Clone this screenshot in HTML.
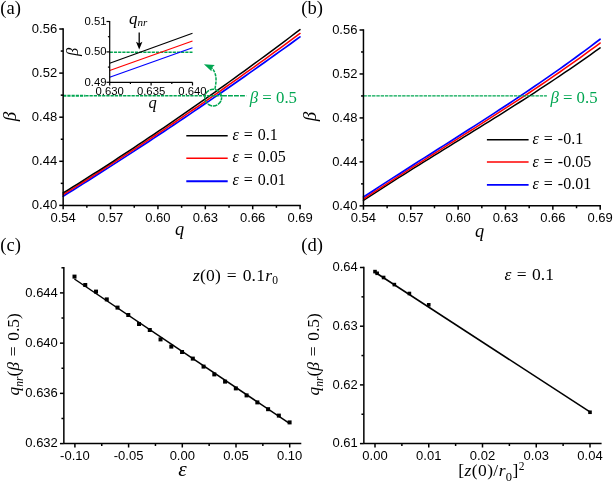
<!DOCTYPE html>
<html><head><meta charset="utf-8"><title>Figure</title>
<style>html,body{margin:0;padding:0;background:#fff}svg{display:block}</style></head>
<body>
<svg width="613" height="481" viewBox="0 0 613 481">
<rect width="613" height="481" fill="#fff"/>
<path d="M63.15 196.18 L68.19 193.05 L73.23 189.91 L78.27 186.76 L83.31 183.6 L88.35 180.43 L93.39 177.24 L98.43 174.05 L103.46 170.84 L108.5 167.62 L113.54 164.39 L118.58 161.15 L123.62 157.9 L128.66 154.63 L133.7 151.36 L138.74 148.07 L143.78 144.77 L148.82 141.46 L153.86 138.14 L158.9 134.81 L163.94 131.47 L168.98 128.11 L174.02 124.74 L179.06 121.37 L184.09 117.98 L189.13 114.58 L194.17 111.17 L199.21 107.74 L204.25 104.31 L209.29 100.86 L214.33 97.41 L219.37 93.94 L224.41 90.46 L229.45 86.97 L234.49 83.46 L239.53 79.95 L244.57 76.43 L249.61 72.89 L254.65 69.34 L259.69 65.78 L264.72 62.21 L269.76 58.63 L274.8 55.04 L279.84 51.43 L284.88 47.82 L289.92 44.19 L294.96 40.55 L300 36.9" fill="none" stroke="#0000ff" stroke-width="1.7" stroke-linecap="round"/>
<path d="M63.15 194.58 L68.19 191.45 L73.23 188.31 L78.27 185.16 L83.31 181.99 L88.35 178.81 L93.39 175.61 L98.43 172.41 L103.46 169.19 L108.5 165.95 L113.54 162.71 L118.58 159.45 L123.62 156.18 L128.66 152.89 L133.7 149.59 L138.74 146.28 L143.78 142.96 L148.82 139.62 L153.86 136.27 L158.9 132.91 L163.94 129.53 L168.98 126.14 L174.02 122.74 L179.06 119.32 L184.09 115.9 L189.13 112.46 L194.17 109 L199.21 105.53 L204.25 102.05 L209.29 98.56 L214.33 95.05 L219.37 91.53 L224.41 88 L229.45 84.46 L234.49 80.9 L239.53 77.33 L244.57 73.74 L249.61 70.15 L254.65 66.54 L259.69 62.91 L264.72 59.28 L269.76 55.63 L274.8 51.96 L279.84 48.29 L284.88 44.6 L289.92 40.9 L294.96 37.18 L300 33.46" fill="none" stroke="#ff0000" stroke-width="1.55" stroke-linecap="round"/>
<path d="M63.15 192.98 L68.19 189.85 L73.23 186.71 L78.27 183.55 L83.31 180.37 L88.35 177.18 L93.39 173.98 L98.43 170.76 L103.46 167.52 L108.5 164.27 L113.54 161.01 L118.58 157.72 L123.62 154.43 L128.66 151.12 L133.7 147.79 L138.74 144.45 L143.78 141.1 L148.82 137.73 L153.86 134.34 L158.9 130.94 L163.94 127.52 L168.98 124.09 L174.02 120.65 L179.06 117.19 L184.09 113.71 L189.13 110.22 L194.17 106.71 L199.21 103.19 L204.25 99.66 L209.29 96.11 L214.33 92.54 L219.37 88.96 L224.41 85.36 L229.45 81.75 L234.49 78.12 L239.53 74.48 L244.57 70.83 L249.61 67.15 L254.65 63.47 L259.69 59.77 L264.72 56.05 L269.76 52.32 L274.8 48.57 L279.84 44.81 L284.88 41.03 L289.92 37.24 L294.96 33.43 L300 29.61" fill="none" stroke="#000000" stroke-width="1.5" stroke-linecap="round"/>
<line x1="63.15" y1="95.7" x2="85.3" y2="95.7" stroke="#00A651" stroke-width="2.0" stroke-dasharray="3.2 1"/>
<line x1="85.3" y1="95.7" x2="222" y2="95.7" stroke="#00A651" stroke-width="1.35" stroke-dasharray="3.3 0.9"/>
<line x1="222" y1="95.7" x2="246.2" y2="95.7" stroke="#00A651" stroke-width="1.35" stroke-dasharray="4.9 1.1"/>
<line x1="63.15" y1="205.4" x2="63.15" y2="28.25" stroke="#000" stroke-width="1.5" />
<line x1="63.15" y1="205.4" x2="300.85" y2="205.4" stroke="#000" stroke-width="1.5" />
<line x1="63.15" y1="205.4" x2="63.15" y2="209.3" stroke="#000" stroke-width="1.5" />
<line x1="110.54" y1="205.4" x2="110.54" y2="209.3" stroke="#000" stroke-width="1.5" />
<line x1="157.93" y1="205.4" x2="157.93" y2="209.3" stroke="#000" stroke-width="1.5" />
<line x1="205.32" y1="205.4" x2="205.32" y2="209.3" stroke="#000" stroke-width="1.5" />
<line x1="252.71" y1="205.4" x2="252.71" y2="209.3" stroke="#000" stroke-width="1.5" />
<line x1="300.1" y1="205.4" x2="300.1" y2="209.3" stroke="#000" stroke-width="1.5" />
<line x1="86.84" y1="205.4" x2="86.84" y2="207.8" stroke="#000" stroke-width="1.5" />
<line x1="134.24" y1="205.4" x2="134.24" y2="207.8" stroke="#000" stroke-width="1.5" />
<line x1="181.62" y1="205.4" x2="181.62" y2="207.8" stroke="#000" stroke-width="1.5" />
<line x1="229.02" y1="205.4" x2="229.02" y2="207.8" stroke="#000" stroke-width="1.5" />
<line x1="276.41" y1="205.4" x2="276.41" y2="207.8" stroke="#000" stroke-width="1.5" />
<line x1="63.15" y1="205.4" x2="59.25" y2="205.4" stroke="#000" stroke-width="1.5" />
<line x1="63.15" y1="161.3" x2="59.25" y2="161.3" stroke="#000" stroke-width="1.5" />
<line x1="63.15" y1="117.2" x2="59.25" y2="117.2" stroke="#000" stroke-width="1.5" />
<line x1="63.15" y1="73.1" x2="59.25" y2="73.1" stroke="#000" stroke-width="1.5" />
<line x1="63.15" y1="29" x2="59.25" y2="29" stroke="#000" stroke-width="1.5" />
<line x1="63.15" y1="183.35" x2="60.75" y2="183.35" stroke="#000" stroke-width="1.5" />
<line x1="63.15" y1="139.25" x2="60.75" y2="139.25" stroke="#000" stroke-width="1.5" />
<line x1="63.15" y1="95.15" x2="60.75" y2="95.15" stroke="#000" stroke-width="1.5" />
<line x1="63.15" y1="51.05" x2="60.75" y2="51.05" stroke="#000" stroke-width="1.5" />
<text x="63.15" y="221.8" font-size="13.0" font-family="Liberation Sans, Arial, sans-serif" text-anchor="middle" fill="#000" >0.54</text>
<text x="110.54" y="221.8" font-size="13.0" font-family="Liberation Sans, Arial, sans-serif" text-anchor="middle" fill="#000" >0.57</text>
<text x="157.93" y="221.8" font-size="13.0" font-family="Liberation Sans, Arial, sans-serif" text-anchor="middle" fill="#000" >0.60</text>
<text x="205.32" y="221.8" font-size="13.0" font-family="Liberation Sans, Arial, sans-serif" text-anchor="middle" fill="#000" >0.63</text>
<text x="252.71" y="221.8" font-size="13.0" font-family="Liberation Sans, Arial, sans-serif" text-anchor="middle" fill="#000" >0.66</text>
<text x="300.1" y="221.8" font-size="13.0" font-family="Liberation Sans, Arial, sans-serif" text-anchor="middle" fill="#000" >0.69</text>
<text x="57.15" y="209.24" font-size="13.0" font-family="Liberation Sans, Arial, sans-serif" text-anchor="end" fill="#000" >0.40</text>
<text x="57.15" y="165.14" font-size="13.0" font-family="Liberation Sans, Arial, sans-serif" text-anchor="end" fill="#000" >0.44</text>
<text x="57.15" y="121.03" font-size="13.0" font-family="Liberation Sans, Arial, sans-serif" text-anchor="end" fill="#000" >0.48</text>
<text x="57.15" y="76.93" font-size="13.0" font-family="Liberation Sans, Arial, sans-serif" text-anchor="end" fill="#000" >0.52</text>
<text x="57.15" y="32.84" font-size="13.0" font-family="Liberation Sans, Arial, sans-serif" text-anchor="end" fill="#000" >0.56</text>
<text x="0.3" y="13.8" font-size="18.6" font-family="Liberation Serif, Times New Roman, serif" text-anchor="start" fill="#000" >(a)</text>
<text transform="translate(16.4,116.5) rotate(-90)" font-size="19" font-family="Liberation Serif, Times New Roman, serif" font-style="italic" text-anchor="middle">β</text>
<text x="179.7" y="234.8" font-size="18.4" font-family="Liberation Serif, Times New Roman, serif" font-style="italic" text-anchor="middle" fill="#000" >q</text>
<text x="249.8" y="103" font-size="16.8" font-family="Liberation Serif, Times New Roman, serif" text-anchor="start" fill="#00A651" ><tspan font-style="italic">β</tspan> = 0.5</text>
<circle cx="213.2" cy="97.6" r="8.4" fill="none" stroke="#00A651" stroke-width="1.5" stroke-dasharray="4.6 0.8" stroke-dashoffset="2"/>
<path d="M215 88.8 C216.2 82 217.6 74 211.5 67.6" fill="none" stroke="#00A651" stroke-width="1.5" stroke-dasharray="3.2 1"/>
<path d="M203.9 64.2 L214.8 65 L212 67.6 L211.4 71.2 Z" fill="#00A651"/>
<line x1="186.3" y1="135.7" x2="227.7" y2="135.7" stroke="#000" stroke-width="1.4" />
<text x="232.5" y="139.6" font-size="16" font-family="Liberation Serif, Times New Roman, serif" text-anchor="start" fill="#000" word-spacing="1"><tspan font-style="italic">ε</tspan> = 0.1</text>
<line x1="186.3" y1="158.2" x2="227.7" y2="158.2" stroke="#ff0000" stroke-width="1.5" />
<text x="232.5" y="162.1" font-size="16" font-family="Liberation Serif, Times New Roman, serif" text-anchor="start" fill="#000" word-spacing="1"><tspan font-style="italic">ε</tspan> = 0.05</text>
<line x1="186.3" y1="181.2" x2="227.7" y2="181.2" stroke="#0000ff" stroke-width="1.9" />
<text x="232.5" y="185.1" font-size="16" font-family="Liberation Serif, Times New Roman, serif" text-anchor="start" fill="#000" word-spacing="1"><tspan font-style="italic">ε</tspan> = 0.01</text>
<line x1="109.7" y1="52.2" x2="192.5" y2="52.2" stroke="#00A651" stroke-width="1.5" stroke-dasharray="3.2 1"/>
<line x1="109.7" y1="77.3" x2="192.5" y2="47.8" stroke="#0000ff" stroke-width="1.2" />
<line x1="109.7" y1="70.5" x2="192.5" y2="41" stroke="#ff0000" stroke-width="1.2" />
<line x1="109.7" y1="63.2" x2="192.5" y2="33.2" stroke="#000" stroke-width="1.2" />
<line x1="109.7" y1="82.3" x2="109.7" y2="20.9" stroke="#000" stroke-width="1.2" />
<line x1="109.7" y1="82.3" x2="192.5" y2="82.3" stroke="#000" stroke-width="1.2" />
<line x1="109.7" y1="82.3" x2="109.7" y2="85.5" stroke="#000" stroke-width="1.2" />
<line x1="151.1" y1="82.3" x2="151.1" y2="85.5" stroke="#000" stroke-width="1.2" />
<line x1="192.5" y1="82.3" x2="192.5" y2="85.5" stroke="#000" stroke-width="1.2" />
<line x1="130.4" y1="82.3" x2="130.4" y2="84.1" stroke="#000" stroke-width="1.2" />
<line x1="171.8" y1="82.3" x2="171.8" y2="84.1" stroke="#000" stroke-width="1.2" />
<line x1="109.7" y1="82.3" x2="106.5" y2="82.3" stroke="#000" stroke-width="1.2" />
<line x1="109.7" y1="51.9" x2="106.5" y2="51.9" stroke="#000" stroke-width="1.2" />
<line x1="109.7" y1="21.5" x2="106.5" y2="21.5" stroke="#000" stroke-width="1.2" />
<line x1="109.7" y1="67.1" x2="107.9" y2="67.1" stroke="#000" stroke-width="1.2" />
<line x1="109.7" y1="36.7" x2="107.9" y2="36.7" stroke="#000" stroke-width="1.2" />
<text x="109.7" y="94.5" font-size="11.3" font-family="Liberation Sans, Arial, sans-serif" text-anchor="middle" fill="#000" >0.630</text>
<text x="151.1" y="94.5" font-size="11.3" font-family="Liberation Sans, Arial, sans-serif" text-anchor="middle" fill="#000" >0.635</text>
<text x="192.5" y="94.5" font-size="11.3" font-family="Liberation Sans, Arial, sans-serif" text-anchor="middle" fill="#000" >0.640</text>
<text x="106.5" y="85.63" font-size="11.3" font-family="Liberation Sans, Arial, sans-serif" text-anchor="end" fill="#000" >0.49</text>
<text x="106.5" y="55.23" font-size="11.3" font-family="Liberation Sans, Arial, sans-serif" text-anchor="end" fill="#000" >0.50</text>
<text x="106.5" y="24.83" font-size="11.3" font-family="Liberation Sans, Arial, sans-serif" text-anchor="end" fill="#000" >0.51</text>
<text transform="translate(78.2,51.8) rotate(-90)" font-size="16.5" font-family="Liberation Serif, Times New Roman, serif" font-style="italic" text-anchor="middle">β</text>
<text x="152.5" y="108" font-size="16.5" font-family="Liberation Serif, Times New Roman, serif" font-style="italic" text-anchor="middle" fill="#000" >q</text>
<text x="129" y="23.5" font-size="17" font-family="Liberation Serif, Times New Roman, serif" text-anchor="start" fill="#000" ><tspan font-style="italic">q</tspan><tspan font-style="italic" font-size="11" dy="2.6">nr</tspan></text>
<line x1="139.2" y1="32.5" x2="139.2" y2="44" stroke="#000" stroke-width="1.3" />
<path d="M139.2 49.5 L136 41.8 L139.2 43.6 L142.4 41.8 Z" fill="#000"/>
<path d="M363.45 200.35 L368.49 197.06 L373.52 193.79 L378.56 190.54 L383.59 187.31 L388.63 184.09 L393.66 180.89 L398.7 177.7 L403.73 174.53 L408.77 171.36 L413.8 168.21 L418.84 165.06 L423.87 161.93 L428.91 158.8 L433.94 155.67 L438.98 152.55 L444.01 149.43 L449.05 146.32 L454.08 143.21 L459.12 140.09 L464.15 136.97 L469.19 133.86 L474.22 130.73 L479.26 127.61 L484.29 124.47 L489.33 121.33 L494.36 118.18 L499.4 115.02 L504.43 111.84 L509.47 108.66 L514.5 105.46 L519.54 102.25 L524.57 99.02 L529.61 95.78 L534.64 92.51 L539.68 89.23 L544.71 85.92 L549.75 82.6 L554.78 79.25 L559.82 75.87 L564.85 72.48 L569.89 69.05 L574.92 65.6 L579.96 62.11 L584.99 58.6 L590.03 55.05 L595.06 51.48 L600.1 47.87" fill="none" stroke="#000000" stroke-width="1.5" stroke-linecap="round"/>
<path d="M363.45 199.02 L368.49 195.69 L373.52 192.39 L378.56 189.1 L383.59 185.83 L388.63 182.57 L393.66 179.33 L398.7 176.1 L403.73 172.88 L408.77 169.67 L413.8 166.47 L418.84 163.28 L423.87 160.09 L428.91 156.91 L433.94 153.73 L438.98 150.56 L444.01 147.39 L449.05 144.21 L454.08 141.04 L459.12 137.86 L464.15 134.68 L469.19 131.5 L474.22 128.31 L479.26 125.11 L484.29 121.9 L489.33 118.69 L494.36 115.46 L499.4 112.22 L504.43 108.97 L509.47 105.71 L514.5 102.43 L519.54 99.13 L524.57 95.81 L529.61 92.48 L534.64 89.12 L539.68 85.74 L544.71 82.34 L549.75 78.92 L554.78 75.46 L559.82 71.99 L564.85 68.48 L569.89 64.95 L574.92 61.38 L579.96 57.79 L584.99 54.16 L590.03 50.49 L595.06 46.8 L600.1 43.06" fill="none" stroke="#ff0000" stroke-width="1.55" stroke-linecap="round"/>
<path d="M363.45 197.03 L368.49 193.72 L373.52 190.43 L378.56 187.15 L383.59 183.89 L388.63 180.64 L393.66 177.4 L398.7 174.17 L403.73 170.95 L408.77 167.74 L413.8 164.54 L418.84 161.33 L423.87 158.14 L428.91 154.94 L433.94 151.75 L438.98 148.56 L444.01 145.36 L449.05 142.17 L454.08 138.97 L459.12 135.76 L464.15 132.55 L469.19 129.33 L474.22 126.11 L479.26 122.87 L484.29 119.63 L489.33 116.37 L494.36 113.1 L499.4 109.81 L504.43 106.51 L509.47 103.19 L514.5 99.86 L519.54 96.5 L524.57 93.12 L529.61 89.73 L534.64 86.31 L539.68 82.86 L544.71 79.39 L549.75 75.9 L554.78 72.37 L559.82 68.82 L564.85 65.24 L569.89 61.62 L574.92 57.98 L579.96 54.29 L584.99 50.58 L590.03 46.83 L595.06 43.04 L600.1 39.21" fill="none" stroke="#0000ff" stroke-width="1.7" stroke-linecap="round"/>
<line x1="363.45" y1="95.94" x2="546.9" y2="95.94" stroke="#00A651" stroke-width="1.25" stroke-dasharray="3.4 0.9"/>
<line x1="363.45" y1="205.85" x2="363.45" y2="29.25" stroke="#000" stroke-width="1.5" />
<line x1="363.45" y1="205.85" x2="600.95" y2="205.85" stroke="#000" stroke-width="1.5" />
<line x1="363.45" y1="205.85" x2="363.45" y2="209.75" stroke="#000" stroke-width="1.5" />
<line x1="410.8" y1="205.85" x2="410.8" y2="209.75" stroke="#000" stroke-width="1.5" />
<line x1="458.15" y1="205.85" x2="458.15" y2="209.75" stroke="#000" stroke-width="1.5" />
<line x1="505.5" y1="205.85" x2="505.5" y2="209.75" stroke="#000" stroke-width="1.5" />
<line x1="552.85" y1="205.85" x2="552.85" y2="209.75" stroke="#000" stroke-width="1.5" />
<line x1="600.2" y1="205.85" x2="600.2" y2="209.75" stroke="#000" stroke-width="1.5" />
<line x1="387.12" y1="205.85" x2="387.12" y2="208.25" stroke="#000" stroke-width="1.5" />
<line x1="434.48" y1="205.85" x2="434.48" y2="208.25" stroke="#000" stroke-width="1.5" />
<line x1="481.83" y1="205.85" x2="481.83" y2="208.25" stroke="#000" stroke-width="1.5" />
<line x1="529.18" y1="205.85" x2="529.18" y2="208.25" stroke="#000" stroke-width="1.5" />
<line x1="576.53" y1="205.85" x2="576.53" y2="208.25" stroke="#000" stroke-width="1.5" />
<line x1="363.45" y1="205.85" x2="359.55" y2="205.85" stroke="#000" stroke-width="1.5" />
<line x1="363.45" y1="161.89" x2="359.55" y2="161.89" stroke="#000" stroke-width="1.5" />
<line x1="363.45" y1="117.92" x2="359.55" y2="117.92" stroke="#000" stroke-width="1.5" />
<line x1="363.45" y1="73.96" x2="359.55" y2="73.96" stroke="#000" stroke-width="1.5" />
<line x1="363.45" y1="30" x2="359.55" y2="30" stroke="#000" stroke-width="1.5" />
<line x1="363.45" y1="183.87" x2="361.05" y2="183.87" stroke="#000" stroke-width="1.5" />
<line x1="363.45" y1="139.91" x2="361.05" y2="139.91" stroke="#000" stroke-width="1.5" />
<line x1="363.45" y1="95.94" x2="361.05" y2="95.94" stroke="#000" stroke-width="1.5" />
<line x1="363.45" y1="51.98" x2="361.05" y2="51.98" stroke="#000" stroke-width="1.5" />
<text x="363.45" y="222.25" font-size="13.0" font-family="Liberation Sans, Arial, sans-serif" text-anchor="middle" fill="#000" >0.54</text>
<text x="410.8" y="222.25" font-size="13.0" font-family="Liberation Sans, Arial, sans-serif" text-anchor="middle" fill="#000" >0.57</text>
<text x="458.15" y="222.25" font-size="13.0" font-family="Liberation Sans, Arial, sans-serif" text-anchor="middle" fill="#000" >0.60</text>
<text x="505.5" y="222.25" font-size="13.0" font-family="Liberation Sans, Arial, sans-serif" text-anchor="middle" fill="#000" >0.63</text>
<text x="552.85" y="222.25" font-size="13.0" font-family="Liberation Sans, Arial, sans-serif" text-anchor="middle" fill="#000" >0.66</text>
<text x="600.2" y="222.25" font-size="13.0" font-family="Liberation Sans, Arial, sans-serif" text-anchor="middle" fill="#000" >0.69</text>
<text x="357.45" y="209.69" font-size="13.0" font-family="Liberation Sans, Arial, sans-serif" text-anchor="end" fill="#000" >0.40</text>
<text x="357.45" y="165.72" font-size="13.0" font-family="Liberation Sans, Arial, sans-serif" text-anchor="end" fill="#000" >0.44</text>
<text x="357.45" y="121.76" font-size="13.0" font-family="Liberation Sans, Arial, sans-serif" text-anchor="end" fill="#000" >0.48</text>
<text x="357.45" y="77.8" font-size="13.0" font-family="Liberation Sans, Arial, sans-serif" text-anchor="end" fill="#000" >0.52</text>
<text x="357.45" y="33.84" font-size="13.0" font-family="Liberation Sans, Arial, sans-serif" text-anchor="end" fill="#000" >0.56</text>
<text x="301.2" y="13.8" font-size="18.6" font-family="Liberation Serif, Times New Roman, serif" text-anchor="start" fill="#000" >(b)</text>
<text transform="translate(316.4,116.5) rotate(-90)" font-size="19" font-family="Liberation Serif, Times New Roman, serif" font-style="italic" text-anchor="middle">β</text>
<text x="479.7" y="237.3" font-size="18.4" font-family="Liberation Serif, Times New Roman, serif" font-style="italic" text-anchor="middle" fill="#000" >q</text>
<text x="550.4" y="103.2" font-size="16.8" font-family="Liberation Serif, Times New Roman, serif" text-anchor="start" fill="#00A651" ><tspan font-style="italic">β</tspan> = 0.5</text>
<line x1="486.9" y1="139.7" x2="528.6" y2="139.7" stroke="#000" stroke-width="1.4" />
<text x="532.5" y="144.2" font-size="16" font-family="Liberation Serif, Times New Roman, serif" text-anchor="start" fill="#000" word-spacing="1"><tspan font-style="italic">ε</tspan> = -0.1</text>
<line x1="486.9" y1="162.1" x2="528.6" y2="162.1" stroke="#ff0000" stroke-width="1.5" />
<text x="532.5" y="166.6" font-size="16" font-family="Liberation Serif, Times New Roman, serif" text-anchor="start" fill="#000" word-spacing="1"><tspan font-style="italic">ε</tspan> = -0.05</text>
<line x1="486.9" y1="184.9" x2="528.6" y2="184.9" stroke="#0000ff" stroke-width="1.9" />
<text x="532.5" y="189.4" font-size="16" font-family="Liberation Serif, Times New Roman, serif" text-anchor="start" fill="#000" word-spacing="1"><tspan font-style="italic">ε</tspan> = -0.01</text>
<line x1="63.85" y1="443.6" x2="63.85" y2="267.04" stroke="#000" stroke-width="1.5" />
<line x1="63.85" y1="443.6" x2="301.3" y2="443.6" stroke="#000" stroke-width="1.5" />
<line x1="74.9" y1="443.6" x2="74.9" y2="447.5" stroke="#000" stroke-width="1.5" />
<line x1="128.6" y1="443.6" x2="128.6" y2="447.5" stroke="#000" stroke-width="1.5" />
<line x1="182.3" y1="443.6" x2="182.3" y2="447.5" stroke="#000" stroke-width="1.5" />
<line x1="236" y1="443.6" x2="236" y2="447.5" stroke="#000" stroke-width="1.5" />
<line x1="289.7" y1="443.6" x2="289.7" y2="447.5" stroke="#000" stroke-width="1.5" />
<line x1="101.75" y1="443.6" x2="101.75" y2="446" stroke="#000" stroke-width="1.5" />
<line x1="155.45" y1="443.6" x2="155.45" y2="446" stroke="#000" stroke-width="1.5" />
<line x1="209.15" y1="443.6" x2="209.15" y2="446" stroke="#000" stroke-width="1.5" />
<line x1="262.85" y1="443.6" x2="262.85" y2="446" stroke="#000" stroke-width="1.5" />
<line x1="63.85" y1="443.6" x2="59.95" y2="443.6" stroke="#000" stroke-width="1.5" />
<line x1="63.85" y1="393.37" x2="59.95" y2="393.37" stroke="#000" stroke-width="1.5" />
<line x1="63.85" y1="343.14" x2="59.95" y2="343.14" stroke="#000" stroke-width="1.5" />
<line x1="63.85" y1="292.9" x2="59.95" y2="292.9" stroke="#000" stroke-width="1.5" />
<line x1="63.85" y1="418.48" x2="61.45" y2="418.48" stroke="#000" stroke-width="1.5" />
<line x1="63.85" y1="368.25" x2="61.45" y2="368.25" stroke="#000" stroke-width="1.5" />
<line x1="63.85" y1="318.02" x2="61.45" y2="318.02" stroke="#000" stroke-width="1.5" />
<line x1="63.85" y1="267.79" x2="61.45" y2="267.79" stroke="#000" stroke-width="1.5" />
<text x="74.9" y="460" font-size="13.0" font-family="Liberation Sans, Arial, sans-serif" text-anchor="middle" fill="#000" >-0.10</text>
<text x="128.6" y="460" font-size="13.0" font-family="Liberation Sans, Arial, sans-serif" text-anchor="middle" fill="#000" >-0.05</text>
<text x="182.3" y="460" font-size="13.0" font-family="Liberation Sans, Arial, sans-serif" text-anchor="middle" fill="#000" >0.00</text>
<text x="236" y="460" font-size="13.0" font-family="Liberation Sans, Arial, sans-serif" text-anchor="middle" fill="#000" >0.05</text>
<text x="289.7" y="460" font-size="13.0" font-family="Liberation Sans, Arial, sans-serif" text-anchor="middle" fill="#000" >0.10</text>
<text x="57.85" y="447.44" font-size="13.0" font-family="Liberation Sans, Arial, sans-serif" text-anchor="end" fill="#000" >0.632</text>
<text x="57.85" y="397.2" font-size="13.0" font-family="Liberation Sans, Arial, sans-serif" text-anchor="end" fill="#000" >0.636</text>
<text x="57.85" y="346.97" font-size="13.0" font-family="Liberation Sans, Arial, sans-serif" text-anchor="end" fill="#000" >0.640</text>
<text x="57.85" y="296.74" font-size="13.0" font-family="Liberation Sans, Arial, sans-serif" text-anchor="end" fill="#000" >0.644</text>
<line x1="74.4" y1="279" x2="289.8" y2="423.7" stroke="#000" stroke-width="1.5" />
<rect x="72.5" y="274.6" width="4" height="4" fill="#000"/>
<rect x="83.25" y="283" width="4" height="4" fill="#000"/>
<rect x="94.01" y="289.6" width="4" height="4" fill="#000"/>
<rect x="104.77" y="297.4" width="4" height="4" fill="#000"/>
<rect x="115.52" y="305.6" width="4" height="4" fill="#000"/>
<rect x="126.28" y="313" width="4" height="4" fill="#000"/>
<rect x="137.03" y="322" width="4" height="4" fill="#000"/>
<rect x="147.79" y="328" width="4" height="4" fill="#000"/>
<rect x="158.54" y="337.4" width="4" height="4" fill="#000"/>
<rect x="169.3" y="344.6" width="4" height="4" fill="#000"/>
<rect x="180.05" y="350" width="4" height="4" fill="#000"/>
<rect x="190.81" y="356.6" width="4" height="4" fill="#000"/>
<rect x="201.56" y="364.6" width="4" height="4" fill="#000"/>
<rect x="212.31" y="372.4" width="4" height="4" fill="#000"/>
<rect x="223.07" y="379.6" width="4" height="4" fill="#000"/>
<rect x="233.83" y="386.4" width="4" height="4" fill="#000"/>
<rect x="244.58" y="393.4" width="4" height="4" fill="#000"/>
<rect x="255.34" y="400.4" width="4" height="4" fill="#000"/>
<rect x="266.09" y="407.2" width="4" height="4" fill="#000"/>
<rect x="276.85" y="413.6" width="4" height="4" fill="#000"/>
<rect x="287.6" y="420.4" width="4" height="4" fill="#000"/>
<text x="0.3" y="250.7" font-size="18.6" font-family="Liberation Serif, Times New Roman, serif" text-anchor="start" fill="#000" >(c)</text>
<text transform="translate(19,354.3) rotate(-90)" font-size="17.5" font-family="Liberation Serif, Times New Roman, serif" text-anchor="middle" word-spacing="1.3"><tspan font-style="italic">q</tspan><tspan font-style="italic" font-size="11.5" dy="3.5">nr</tspan><tspan dy="-3.5">(</tspan><tspan font-style="italic">β</tspan> = 0.5)</text>
<text x="182.6" y="476" font-size="21.5" font-family="Liberation Serif, Times New Roman, serif" font-style="italic" text-anchor="middle" fill="#000" >ε</text>
<text x="193" y="280.6" font-size="17.5" font-family="Liberation Serif, Times New Roman, serif" text-anchor="start" fill="#000" word-spacing="1.2" letter-spacing="0.2"><tspan font-style="italic">z</tspan>(0) = 0.1<tspan font-style="italic">r</tspan><tspan font-size="11.5" dy="3.8">0</tspan></text>
<line x1="363.85" y1="443.6" x2="363.85" y2="266.75" stroke="#000" stroke-width="1.5" />
<line x1="363.85" y1="443.6" x2="601.6" y2="443.6" stroke="#000" stroke-width="1.5" />
<line x1="375" y1="443.6" x2="375" y2="447.5" stroke="#000" stroke-width="1.5" />
<line x1="428.75" y1="443.6" x2="428.75" y2="447.5" stroke="#000" stroke-width="1.5" />
<line x1="482.5" y1="443.6" x2="482.5" y2="447.5" stroke="#000" stroke-width="1.5" />
<line x1="536.25" y1="443.6" x2="536.25" y2="447.5" stroke="#000" stroke-width="1.5" />
<line x1="590" y1="443.6" x2="590" y2="447.5" stroke="#000" stroke-width="1.5" />
<line x1="401.88" y1="443.6" x2="401.88" y2="446" stroke="#000" stroke-width="1.5" />
<line x1="455.62" y1="443.6" x2="455.62" y2="446" stroke="#000" stroke-width="1.5" />
<line x1="509.38" y1="443.6" x2="509.38" y2="446" stroke="#000" stroke-width="1.5" />
<line x1="563.12" y1="443.6" x2="563.12" y2="446" stroke="#000" stroke-width="1.5" />
<line x1="363.85" y1="443.6" x2="359.95" y2="443.6" stroke="#000" stroke-width="1.5" />
<line x1="363.85" y1="384.9" x2="359.95" y2="384.9" stroke="#000" stroke-width="1.5" />
<line x1="363.85" y1="326.2" x2="359.95" y2="326.2" stroke="#000" stroke-width="1.5" />
<line x1="363.85" y1="267.5" x2="359.95" y2="267.5" stroke="#000" stroke-width="1.5" />
<line x1="363.85" y1="414.25" x2="361.45" y2="414.25" stroke="#000" stroke-width="1.5" />
<line x1="363.85" y1="355.55" x2="361.45" y2="355.55" stroke="#000" stroke-width="1.5" />
<line x1="363.85" y1="296.85" x2="361.45" y2="296.85" stroke="#000" stroke-width="1.5" />
<text x="375" y="460" font-size="13.0" font-family="Liberation Sans, Arial, sans-serif" text-anchor="middle" fill="#000" >0.00</text>
<text x="428.75" y="460" font-size="13.0" font-family="Liberation Sans, Arial, sans-serif" text-anchor="middle" fill="#000" >0.01</text>
<text x="482.5" y="460" font-size="13.0" font-family="Liberation Sans, Arial, sans-serif" text-anchor="middle" fill="#000" >0.02</text>
<text x="536.25" y="460" font-size="13.0" font-family="Liberation Sans, Arial, sans-serif" text-anchor="middle" fill="#000" >0.03</text>
<text x="590" y="460" font-size="13.0" font-family="Liberation Sans, Arial, sans-serif" text-anchor="middle" fill="#000" >0.04</text>
<text x="357.85" y="447.44" font-size="13.0" font-family="Liberation Sans, Arial, sans-serif" text-anchor="end" fill="#000" >0.61</text>
<text x="357.85" y="388.73" font-size="13.0" font-family="Liberation Sans, Arial, sans-serif" text-anchor="end" fill="#000" >0.62</text>
<text x="357.85" y="330.03" font-size="13.0" font-family="Liberation Sans, Arial, sans-serif" text-anchor="end" fill="#000" >0.63</text>
<text x="357.85" y="271.33" font-size="13.0" font-family="Liberation Sans, Arial, sans-serif" text-anchor="end" fill="#000" >0.64</text>
<line x1="374.7" y1="272" x2="590.3" y2="412.2" stroke="#000" stroke-width="1.55" />
<rect x="373.2" y="269.8" width="3.6" height="3.6" fill="#000"/>
<rect x="375.35" y="271.5" width="3.6" height="3.6" fill="#000"/>
<rect x="381.8" y="275.7" width="3.6" height="3.6" fill="#000"/>
<rect x="392.55" y="282.8" width="3.6" height="3.6" fill="#000"/>
<rect x="407.6" y="291.7" width="3.6" height="3.6" fill="#000"/>
<rect x="426.95" y="303" width="3.6" height="3.6" fill="#000"/>
<rect x="588.2" y="410.45" width="3.6" height="3.6" fill="#000"/>
<text x="301.2" y="250.7" font-size="18.6" font-family="Liberation Serif, Times New Roman, serif" text-anchor="start" fill="#000" >(d)</text>
<text transform="translate(319,354.3) rotate(-90)" font-size="17.5" font-family="Liberation Serif, Times New Roman, serif" text-anchor="middle" word-spacing="1.3"><tspan font-style="italic">q</tspan><tspan font-style="italic" font-size="11.5" dy="3.5">nr</tspan><tspan dy="-3.5">(</tspan><tspan font-style="italic">β</tspan> = 0.5)</text>
<text x="504.5" y="280.2" font-size="17.5" font-family="Liberation Serif, Times New Roman, serif" text-anchor="start" fill="#000" word-spacing="1"><tspan font-style="italic">ε</tspan> = 0.1</text>
<text x="458.3" y="476" font-size="17.5" font-family="Liberation Serif, Times New Roman, serif" text-anchor="start" fill="#000" letter-spacing="0.4">[<tspan font-style="italic">z</tspan>(0)/<tspan font-style="italic">r</tspan><tspan font-size="12.5" dy="4.6">0</tspan><tspan dy="-4.6">]</tspan><tspan font-size="11.5" dy="-6.5">2</tspan></text>
</svg>
</body></html>
